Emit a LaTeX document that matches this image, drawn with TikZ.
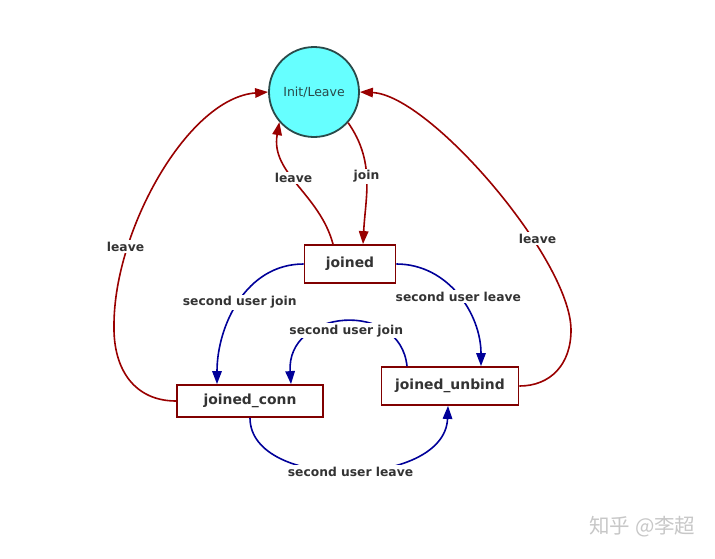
\documentclass[tikz,border=0pt]{standalone}
\usepackage{fontspec}
\setmainfont{DejaVu Sans}
\newfontfamily\cjkfont{Noto Sans CJK SC}
\usetikzlibrary{arrows.meta}

\definecolor{linkred}{HTML}{990000}
\definecolor{boxred}{HTML}{800000}
\definecolor{linkblue}{HTML}{000099}
\definecolor{initfill}{HTML}{66FFFF}
\definecolor{initline}{HTML}{2A4A4A}
\definecolor{labelgray}{HTML}{333333}

\tikzset{
	state/.style={draw=boxred, line width=1.8pt, fill=white, inner sep=0pt,
		font=\fontsize{13.9}{16}\selectfont\bfseries, text=labelgray},
	initstate/.style={circle, draw=initline, line width=1.8pt, fill=initfill,
		minimum size=90pt, inner sep=0pt, font=\fontsize{12.5}{14}\selectfont, text=initline},
	redlink/.style={draw=linkred, line width=1.6pt, -{Triangle[length=13pt,width=9.5pt]}},
	bluelink/.style={draw=linkblue, line width=1.6pt, -{Triangle[length=13pt,width=9.5pt]}},
	edgelabel/.style={fill=white, inner sep=1.5pt,
		font=\fontsize{12.3}{14}\selectfont\bfseries, text=labelgray}
}

\begin{document}
\begin{tikzpicture}[x=1pt,y=1pt]
	\useasboundingbox (0,0) rectangle (715,-558);

	% states
	\node[initstate] (init) at (314,-92) {Init/Leave};
	\node[state, minimum width=91pt, minimum height=38pt] (joined) at (350,-264) {joined};
	\node[state, minimum width=146pt, minimum height=32pt] (conn) at (250,-401) {joined\_conn};
	\node[state, minimum width=137pt, minimum height=38pt] (unbind) at (450,-386) {joined\_unbind};

	% red links
	\draw[redlink] (init.-42) to[out=-55,in=87] ([xshift=13pt]joined.north);
	\draw[redlink] ([xshift=-17pt]joined.north) to[out=105,in=-100] (init.-139);
	\draw[redlink] (conn.west) .. controls (135,-401) and (113,-370) .. (114,-325)
		.. controls (114,-230) and (188,-98) .. (init.west);
	\draw[redlink] (unbind.east) .. controls (550,-386) and (571,-365) .. (571,-330)
		.. controls (571,-260) and (430,-95) .. (init.east);

	% blue links
	\draw[bluelink] (joined.west) to[out=180,in=90] ([xshift=-33pt]conn.north);
	\draw[bluelink] (joined.east) to[out=0,in=90] ([xshift=31pt]unbind.north);
	\draw[bluelink] ([xshift=-43pt]unbind.north) .. controls +(-7,67) and +(-5,75) .. ([xshift=41pt]conn.north);
	\draw[bluelink] (conn.south) .. controls +(0,-73) and +(-3,-83) .. ([xshift=-2pt]unbind.south);

	% labels
	\node[edgelabel] (ljoin) at (366.5,-176) {join};
	\node[edgelabel] (lleave) at (293.5,-178) {leave};
	\node[edgelabel] (lleft) at (125.5,-246.5) {leave};
	\node[edgelabel] (lright) at (537.5,-238.5) {leave};
	\node[edgelabel] (lsujoin) at (239.7,-302.5) {second user join};
	\node[edgelabel] (lsuleave) at (458.3,-296.7) {second user leave};
	\node[edgelabel] (lmidjoin) at (346.3,-330.8) {second user join};
	\node[edgelabel] (lbotleave) at (350.5,-471.7) {second user leave};

	\node[anchor=east, text=black!22, font=\cjkfont\fontsize{20.5}{24}\selectfont] (mark) at (699,-527) {知乎 @李超};
\end{tikzpicture}
\end{document}
